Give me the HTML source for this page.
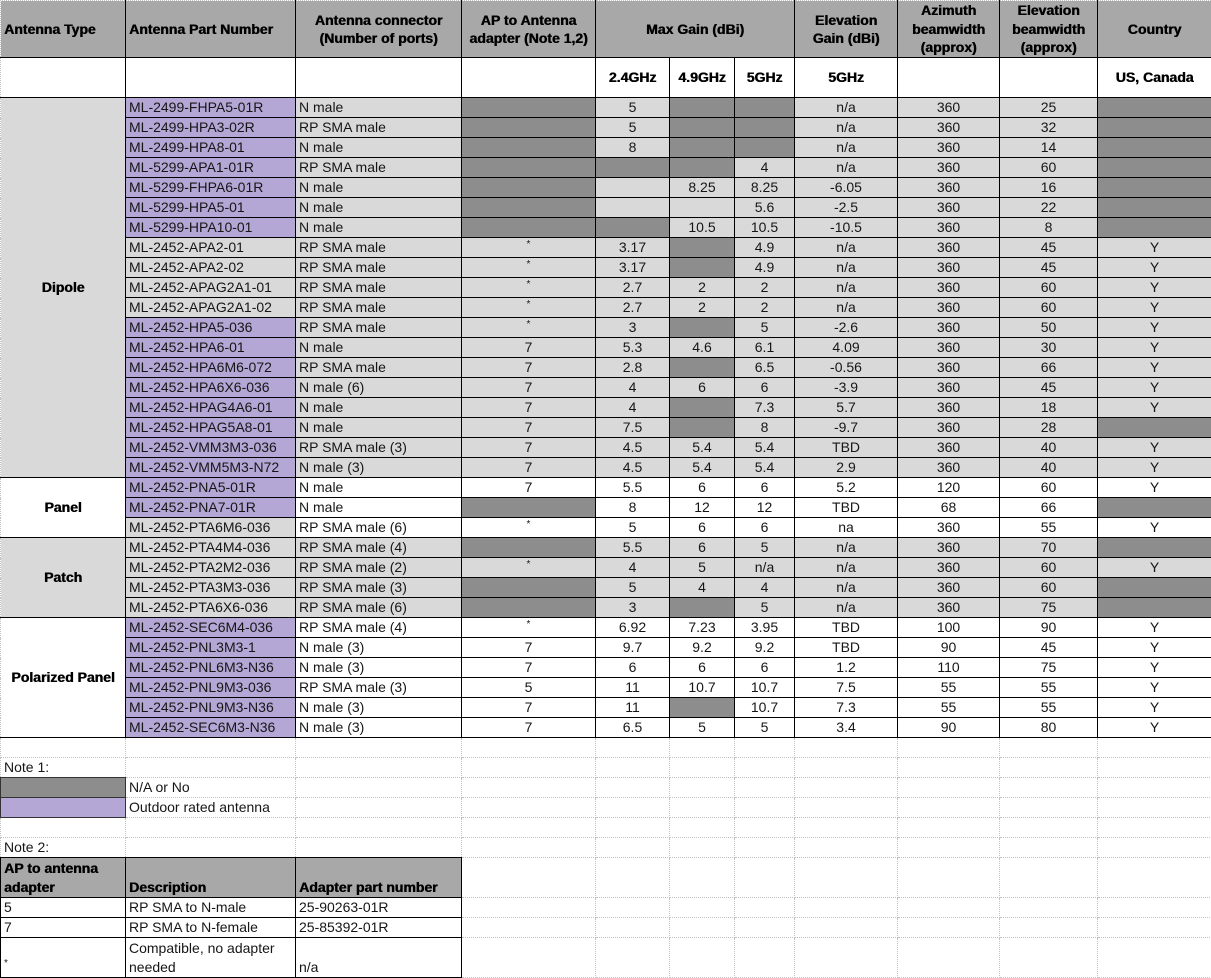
<!DOCTYPE html>
<html><head><meta charset="utf-8"><style>
html,body{margin:0;padding:0;background:#fff}
body{width:1211px;height:978px;overflow:hidden;position:relative}
table{border-collapse:collapse;table-layout:fixed;width:1211px;font-family:"Liberation Sans",Arial,sans-serif;font-size:14px;color:#161616;position:absolute;left:0;top:0}
td{border:1px dotted #c2c2c2;padding:0 3px;white-space:nowrap;overflow:hidden;text-align:center;vertical-align:middle;line-height:17px;height:auto}
tr{height:20px}
tr.t40{height:40px}
.d td{border:1px solid #000}
.d td.f{border-left:1px dotted #c2c2c2}
.h td{border:1px solid #000;border-top:1px dotted #c2c2c2;background:#a8a8a8;font-weight:bold;color:#000;line-height:18.5px;white-space:normal;text-shadow:0.5px 0 0 #000}
.h td.f{border-left:1px dotted #c2c2c2}
tr.h{height:57px}
tr.sh{height:40px}
.sh td{background:#fff;font-weight:bold;color:#000;text-shadow:0.5px 0 0 #000}
.g td{background:#d9d9d9}
td.grp{font-weight:bold;color:#000;text-shadow:0.5px 0 0 #000}
td.gw{background:#fff}
td.gg{background:#d9d9d9}
td.p{background:#b4a7d6}
td.x{background:conic-gradient(#4a4a4a 0 25%,#0000 0) 0 0/2px 2px #a3a3a3}
td.l{text-align:left}
.s{font-size:10px;position:relative;top:-4px}
td.hh{background:#a8a8a8;font-weight:bold;color:#000;border:1px solid #000;text-align:left;vertical-align:bottom;line-height:19px;white-space:normal;text-shadow:0.5px 0 0 #000}
td.bb{border:1px solid #000;text-align:left;vertical-align:middle}
td.bt{vertical-align:bottom;line-height:19px;white-space:normal}
td.lg{border:1px solid #333}
</style></head><body>
<table>
<colgroup>
<col style="width:125px"><col style="width:170px"><col style="width:166px"><col style="width:134px"><col style="width:74px"><col style="width:65px"><col style="width:60px"><col style="width:103px"><col style="width:102px"><col style="width:98px"><col style="width:114px">
</colgroup>
<tr class="h">
<td class="f l">Antenna Type</td>
<td class="l">Antenna Part Number</td>
<td>Antenna connector<br>(Number of ports)</td>
<td>AP to Antenna<br>adapter (Note 1,2)</td>
<td colspan="3">Max Gain (dBi)</td>
<td>Elevation<br>Gain (dBi)</td>
<td>Azimuth<br>beamwidth<br>(approx)</td>
<td>Elevation<br>beamwidth<br>(approx)</td>
<td>Country</td>
</tr>
<tr class="d sh">
<td class="f"></td><td></td><td></td><td></td><td>2.4GHz</td><td>4.9GHz</td><td>5GHz</td><td>5GHz</td><td></td><td></td><td>US, Canada</td>
</tr>
<!-- Dipole -->
<tr class="d g"><td rowspan="19" class="f grp gg">Dipole</td><td class="l p">ML-2499-FHPA5-01R</td><td class="l">N male</td><td class="x"></td><td>5</td><td class="x"></td><td class="x"></td><td>n/a</td><td>360</td><td>25</td><td class="x"></td></tr>
<tr class="d g"><td class="l p">ML-2499-HPA3-02R</td><td class="l">RP SMA male</td><td class="x"></td><td>5</td><td class="x"></td><td class="x"></td><td>n/a</td><td>360</td><td>32</td><td class="x"></td></tr>
<tr class="d g"><td class="l p">ML-2499-HPA8-01</td><td class="l">N male</td><td class="x"></td><td>8</td><td class="x"></td><td class="x"></td><td>n/a</td><td>360</td><td>14</td><td class="x"></td></tr>
<tr class="d g"><td class="l p">ML-5299-APA1-01R</td><td class="l">RP SMA male</td><td class="x"></td><td class="x"></td><td class="x"></td><td>4</td><td>n/a</td><td>360</td><td>60</td><td class="x"></td></tr>
<tr class="d g"><td class="l p">ML-5299-FHPA6-01R</td><td class="l">N male</td><td class="x"></td><td></td><td>8.25</td><td>8.25</td><td>-6.05</td><td>360</td><td>16</td><td class="x"></td></tr>
<tr class="d g"><td class="l p">ML-5299-HPA5-01</td><td class="l">N male</td><td class="x"></td><td></td><td></td><td>5.6</td><td>-2.5</td><td>360</td><td>22</td><td class="x"></td></tr>
<tr class="d g"><td class="l p">ML-5299-HPA10-01</td><td class="l">N male</td><td class="x"></td><td class="x"></td><td>10.5</td><td>10.5</td><td>-10.5</td><td>360</td><td>8</td><td class="x"></td></tr>
<tr class="d g"><td class="l">ML-2452-APA2-01</td><td class="l">RP SMA male</td><td><span class="s">*</span></td><td>3.17</td><td class="x"></td><td>4.9</td><td>n/a</td><td>360</td><td>45</td><td>Y</td></tr>
<tr class="d g"><td class="l">ML-2452-APA2-02</td><td class="l">RP SMA male</td><td><span class="s">*</span></td><td>3.17</td><td class="x"></td><td>4.9</td><td>n/a</td><td>360</td><td>45</td><td>Y</td></tr>
<tr class="d g"><td class="l">ML-2452-APAG2A1-01</td><td class="l">RP SMA male</td><td><span class="s">*</span></td><td>2.7</td><td>2</td><td>2</td><td>n/a</td><td>360</td><td>60</td><td>Y</td></tr>
<tr class="d g"><td class="l">ML-2452-APAG2A1-02</td><td class="l">RP SMA male</td><td><span class="s">*</span></td><td>2.7</td><td>2</td><td>2</td><td>n/a</td><td>360</td><td>60</td><td>Y</td></tr>
<tr class="d g"><td class="l p">ML-2452-HPA5-036</td><td class="l">RP SMA male</td><td><span class="s">*</span></td><td>3</td><td class="x"></td><td>5</td><td>-2.6</td><td>360</td><td>50</td><td>Y</td></tr>
<tr class="d g"><td class="l p">ML-2452-HPA6-01</td><td class="l">N male</td><td>7</td><td>5.3</td><td>4.6</td><td>6.1</td><td>4.09</td><td>360</td><td>30</td><td>Y</td></tr>
<tr class="d g"><td class="l p">ML-2452-HPA6M6-072</td><td class="l">RP SMA male</td><td>7</td><td>2.8</td><td class="x"></td><td>6.5</td><td>-0.56</td><td>360</td><td>66</td><td>Y</td></tr>
<tr class="d g"><td class="l p">ML-2452-HPA6X6-036</td><td class="l">N male (6)</td><td>7</td><td>4</td><td>6</td><td>6</td><td>-3.9</td><td>360</td><td>45</td><td>Y</td></tr>
<tr class="d g"><td class="l p">ML-2452-HPAG4A6-01</td><td class="l">N male</td><td>7</td><td>4</td><td class="x"></td><td>7.3</td><td>5.7</td><td>360</td><td>18</td><td>Y</td></tr>
<tr class="d g"><td class="l p">ML-2452-HPAG5A8-01</td><td class="l">N male</td><td>7</td><td>7.5</td><td class="x"></td><td>8</td><td>-9.7</td><td>360</td><td>28</td><td class="x"></td></tr>
<tr class="d g"><td class="l p">ML-2452-VMM3M3-036</td><td class="l">RP SMA male (3)</td><td>7</td><td>4.5</td><td>5.4</td><td>5.4</td><td>TBD</td><td>360</td><td>40</td><td>Y</td></tr>
<tr class="d g"><td class="l p">ML-2452-VMM5M3-N72</td><td class="l">N male (3)</td><td>7</td><td>4.5</td><td>5.4</td><td>5.4</td><td>2.9</td><td>360</td><td>40</td><td>Y</td></tr>
<!-- Panel -->
<tr class="d"><td rowspan="3" class="f grp gw">Panel</td><td class="l p">ML-2452-PNA5-01R</td><td class="l">N male</td><td>7</td><td>5.5</td><td>6</td><td>6</td><td>5.2</td><td>120</td><td>60</td><td>Y</td></tr>
<tr class="d"><td class="l p">ML-2452-PNA7-01R</td><td class="l">N male</td><td class="x"></td><td>8</td><td>12</td><td>12</td><td>TBD</td><td>68</td><td>66</td><td class="x"></td></tr>
<tr class="d"><td class="l gg">ML-2452-PTA6M6-036</td><td class="l">RP SMA male (6)</td><td><span class="s">*</span></td><td>5</td><td>6</td><td>6</td><td>na</td><td>360</td><td>55</td><td>Y</td></tr>
<!-- Patch -->
<tr class="d g"><td rowspan="4" class="f grp gg">Patch</td><td class="l">ML-2452-PTA4M4-036</td><td class="l">RP SMA male (4)</td><td class="x"></td><td>5.5</td><td>6</td><td>5</td><td>n/a</td><td>360</td><td>70</td><td class="x"></td></tr>
<tr class="d g"><td class="l">ML-2452-PTA2M2-036</td><td class="l">RP SMA male (2)</td><td><span class="s">*</span></td><td>4</td><td>5</td><td>n/a</td><td>n/a</td><td>360</td><td>60</td><td>Y</td></tr>
<tr class="d g"><td class="l">ML-2452-PTA3M3-036</td><td class="l">RP SMA male (3)</td><td class="x"></td><td>5</td><td>4</td><td>4</td><td>n/a</td><td>360</td><td>60</td><td class="x"></td></tr>
<tr class="d g"><td class="l">ML-2452-PTA6X6-036</td><td class="l">RP SMA male (6)</td><td class="x"></td><td>3</td><td class="x"></td><td>5</td><td>n/a</td><td>360</td><td>75</td><td class="x"></td></tr>
<!-- Polarized Panel -->
<tr class="d"><td rowspan="6" class="f grp gw">Polarized Panel</td><td class="l p">ML-2452-SEC6M4-036</td><td class="l">RP SMA male (4)</td><td><span class="s">*</span></td><td>6.92</td><td>7.23</td><td>3.95</td><td>TBD</td><td>100</td><td>90</td><td>Y</td></tr>
<tr class="d"><td class="l p">ML-2452-PNL3M3-1</td><td class="l">N male (3)</td><td>7</td><td>9.7</td><td>9.2</td><td>9.2</td><td>TBD</td><td>90</td><td>45</td><td>Y</td></tr>
<tr class="d"><td class="l p">ML-2452-PNL6M3-N36</td><td class="l">N male (3)</td><td>7</td><td>6</td><td>6</td><td>6</td><td>1.2</td><td>110</td><td>75</td><td>Y</td></tr>
<tr class="d"><td class="l p">ML-2452-PNL9M3-036</td><td class="l">RP SMA male (3)</td><td>5</td><td>11</td><td>10.7</td><td>10.7</td><td>7.5</td><td>55</td><td>55</td><td>Y</td></tr>
<tr class="d"><td class="l p">ML-2452-PNL9M3-N36</td><td class="l">N male (3)</td><td>7</td><td>11</td><td class="x"></td><td>10.7</td><td>7.3</td><td>55</td><td>55</td><td>Y</td></tr>
<tr class="d"><td class="l p">ML-2452-SEC6M3-N36</td><td class="l">N male (3)</td><td>7</td><td>6.5</td><td>5</td><td>5</td><td>3.4</td><td>90</td><td>80</td><td>Y</td></tr>
<!-- lower area -->
<tr><td></td><td></td><td></td><td></td><td></td><td></td><td></td><td></td><td></td><td></td><td></td></tr>
<tr><td class="l">Note 1:</td><td></td><td></td><td></td><td></td><td></td><td></td><td></td><td></td><td></td><td></td></tr>
<tr><td class="x lg"></td><td class="l">N/A or No</td><td></td><td></td><td></td><td></td><td></td><td></td><td></td><td></td><td></td></tr>
<tr><td class="p lg"></td><td class="l">Outdoor rated antenna</td><td></td><td></td><td></td><td></td><td></td><td></td><td></td><td></td><td></td></tr>
<tr><td></td><td></td><td></td><td></td><td></td><td></td><td></td><td></td><td></td><td></td><td></td></tr>
<tr><td class="l">Note 2:</td><td></td><td></td><td></td><td></td><td></td><td></td><td></td><td></td><td></td><td></td></tr>
<tr class="t40"><td class="hh">AP to antenna<br>adapter</td><td class="hh">Description</td><td class="hh">Adapter part number</td><td></td><td></td><td></td><td></td><td></td><td></td><td></td><td></td></tr>
<tr><td class="bb">5</td><td class="bb">RP SMA to N-male</td><td class="bb">25-90263-01R</td><td></td><td></td><td></td><td></td><td></td><td></td><td></td><td></td></tr>
<tr><td class="bb">7</td><td class="bb">RP SMA to N-female</td><td class="bb">25-85392-01R</td><td></td><td></td><td></td><td></td><td></td><td></td><td></td><td></td></tr>
<tr class="t40"><td class="bb bt"><span class="s">*</span></td><td class="bb bt">Compatible, no adapter<br>needed</td><td class="bb bt">n/a</td><td></td><td></td><td></td><td></td><td></td><td></td><td></td><td></td></tr>
</table>
</body></html>
